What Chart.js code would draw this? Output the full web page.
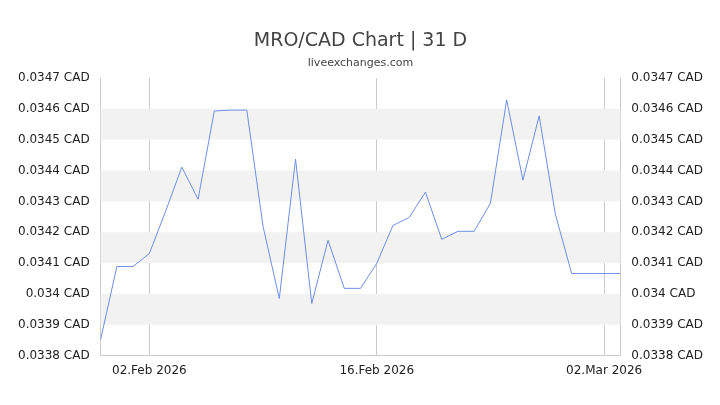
<!DOCTYPE html>
<html><head><meta charset="utf-8">
<script src="https://cdn.jsdelivr.net/npm/chart.js@4/dist/chart.umd.min.js"></script>
<style>html,body{margin:0;padding:0;background:#fff}#w{width:720px;height:405px}</style>
</head><body><div id="w"><canvas id="c"></canvas></div>
<script>
const dates = ["30.Jan","31.Jan","01.Feb","02.Feb 2026","03.Feb","04.Feb","05.Feb","06.Feb","07.Feb","08.Feb","09.Feb","10.Feb","11.Feb","12.Feb","13.Feb","14.Feb","15.Feb","16.Feb 2026","17.Feb","18.Feb","19.Feb","20.Feb","21.Feb","22.Feb","23.Feb","24.Feb","25.Feb","26.Feb","27.Feb","28.Feb","01.Mar","02.Mar 2026","03.Mar"];
const shownTicks = ["02.Feb 2026","16.Feb 2026","02.Mar 2026"];
const rates = [0.033852,0.034089,0.034089,0.034131,0.034268,0.034411,0.034307,0.034593,0.034596,0.034596,0.034219,0.033985,0.034437,0.033969,0.034174,0.034018,0.034018,0.034099,0.034222,0.034248,0.034330,0.034177,0.034203,0.034203,0.034294,0.034629,0.034369,0.034577,0.034258,0.034066,0.034066,0.034066,0.034066];
const bands = [[0.0345,0.0346],[0.0343,0.0344],[0.0341,0.0342],[0.0339,0.0340]];

const bandPlugin = {id:'bands', beforeDatasetsDraw(ch){
  const {ctx, chartArea:a, scales:{y}} = ch;
  ctx.save(); ctx.fillStyle='#f2f2f2';
  bands.forEach(([lo,hi])=>{const t=y.getPixelForValue(hi), b=y.getPixelForValue(lo); ctx.fillRect(a.left,t,a.right-a.left,b-t);});
  ctx.restore();
}};
const yTick = {font:{family:'DejaVu Sans',size:12},color:'#222',callback:v=>(+v.toFixed(4))+' CAD'};
new Chart(document.getElementById('c'),{
  type:'line',
  data:{labels:dates,datasets:[{data:rates,borderColor:'#6d8fe6',borderWidth:1,pointRadius:0,tension:0,fill:false}]},
  options:{responsive:true,maintainAspectRatio:false,animation:false,
    layout:{padding:{left:15,right:14,top:12,bottom:19}},
    plugins:{legend:{display:false},tooltip:{enabled:false},
      title:{display:true,text:'MRO/CAD Chart | 31 D',font:{family:'DejaVu Sans',size:19,weight:'normal'},color:'#444',padding:{top:18,bottom:4}},
      subtitle:{display:true,text:'liveexchanges.com',font:{family:'DejaVu Sans',size:11},color:'#444',padding:{bottom:8}}},
    scales:{
      x:{offset:false,grid:{color:c=>shownTicks.includes(dates[c.index])?'#ccc':'rgba(0,0,0,0)',drawTicks:false},border:{color:'#ccc'},
         ticks:{autoSkip:false,maxRotation:0,font:{family:'DejaVu Sans',size:12},color:'#222',padding:8,
           callback:(v,i)=>shownTicks.includes(dates[i])?dates[i]:''}},
      y:{position:'left',min:0.0338,max:0.0347,ticks:{...yTick,stepSize:0.0001},grid:{display:false},border:{color:'#ccc'}},
      y2:{position:'right',min:0.0338,max:0.0347,ticks:{...yTick,stepSize:0.0001},grid:{display:false,drawOnChartArea:false},border:{color:'#ccc'}}
    }}
  ,plugins:[bandPlugin]});
</script></body></html>
